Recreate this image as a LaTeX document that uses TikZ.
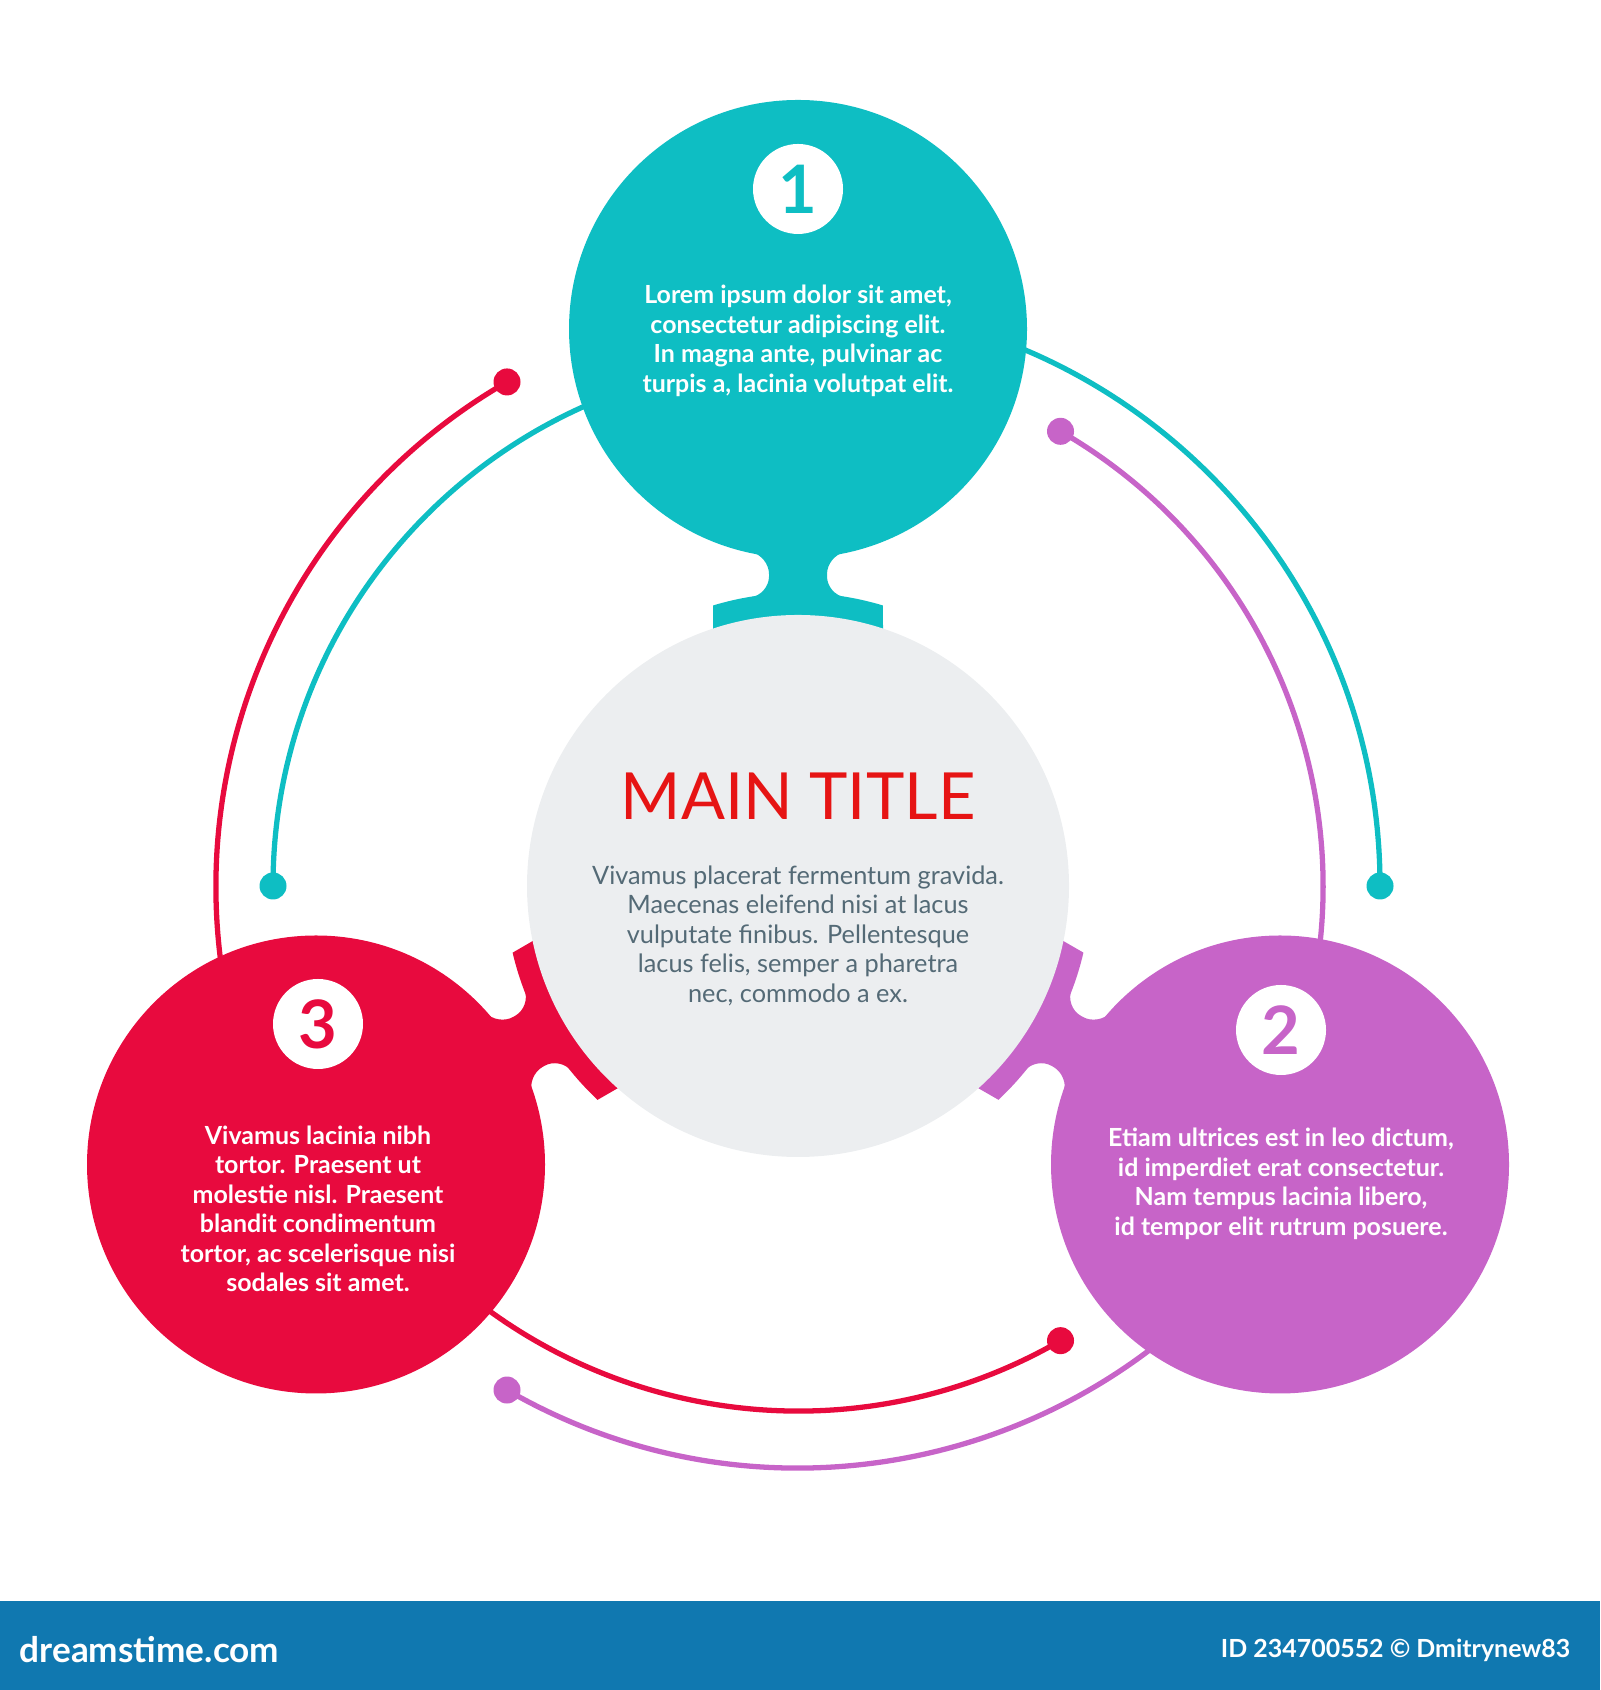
\documentclass[tikz,border=0pt]{standalone}
\usepackage{fontspec}
\setmainfont{Lato}
\usepackage{xcolor}
\usepackage{tikz}
\usetikzlibrary{positioning}
\definecolor{tealc}{RGB}{14,190,195}
\definecolor{redc}{RGB}{232,10,62}
\definecolor{purplec}{RGB}{199,100,200}
\definecolor{coregray}{RGB}{236,238,240}
\definecolor{titlered}{RGB}{230,20,20}
\definecolor{slate}{RGB}{84,106,118}
\definecolor{barblue}{RGB}{16,120,176}
\tikzstyle{item} = [circle, minimum size=4.58cm, inner sep=0pt]
\tikzstyle{core} = [circle, fill=coregray, minimum size=5.42cm, inner sep=0pt]
\tikzstyle{badge} = [circle, fill=white, minimum size=0.9cm, inner sep=0pt, font=\fontsize{19}{19}\selectfont\bfseries]
\tikzstyle{itemtext} = [align=center, text=white, font=\fontsize{7.1}{8.4}\selectfont\bfseries]
\tikzstyle{bodytext} = [align=center, text=slate, font=\fontsize{7.2}{8.4}\selectfont]
\tikzstyle{arcline} = [line width=1.5pt]
\tikzstyle{enddot} = [circle, inner sep=0pt, minimum size=0.27cm]
\newcommand{\neckpart}[2]{%
  \begin{scope}[shift={(7.98,8.04)}, rotate=#1]
    \fill[#2] (-0.85,2.5) -- (-0.85,2.805) arc[start angle=106.86, end angle=73.14, radius=2.93] -- (0.85,2.5) -- cycle;
    \fill[#2, rounded corners=0.18cm] (-0.6,2.6) -- (-0.6,2.867) -- (-0.29,2.915) -- (-0.29,3.30) -- (-0.7,3.39) -- (-0.7,4) -- (0.7,4) -- (0.7,3.39) -- (0.29,3.30) -- (0.29,2.915) -- (0.6,2.867) -- (0.6,2.6) -- cycle;
  \end{scope}}

\begin{document}
\begin{tikzpicture}
        \useasboundingbox (0,0) rectangle (16,16.9);
        \coordinate (mid) at (7.98,8.04);

        \draw[arcline, tealc] ([shift={(90:5.25)}]mid) arc[start angle=90, end angle=180, radius=5.25] node[enddot, fill=tealc] (dot1a) {};
        \draw[arcline, tealc] ([shift={(90:5.82)}]mid) arc[start angle=90, end angle=0, radius=5.82] node[enddot, fill=tealc] (dot1b) {};
        \draw[arcline, purplec] ([shift={(330:5.25)}]mid) arc[start angle=330, end angle=420, radius=5.25] node[enddot, fill=purplec] (dot2a) {};
        \draw[arcline, purplec] ([shift={(330:5.82)}]mid) arc[start angle=330, end angle=240, radius=5.82] node[enddot, fill=purplec] (dot2b) {};
        \draw[arcline, redc] ([shift={(210:5.25)}]mid) arc[start angle=210, end angle=300, radius=5.25] node[enddot, fill=redc] (dot3a) {};
        \draw[arcline, redc] ([shift={(210:5.82)}]mid) arc[start angle=210, end angle=120, radius=5.82] node[enddot, fill=redc] (dot3b) {};

        \neckpart{0}{tealc}
        \neckpart{240}{purplec}
        \neckpart{120}{redc}

        \node[item, fill=tealc] (one) at (7.98,13.61) {};
        \node[item, fill=purplec] (two) at (12.80,5.255) {};
        \node[item, fill=redc] (three) at (3.16,5.255) {};
        \node[core] (hub) at (mid) {};

        \node[badge, text=tealc] (num1) at (7.98,15.01) {1};
        \node[badge, text=purplec] (num2) at (12.81,6.60) {2};
        \node[badge, text=redc] (num3) at (3.18,6.66) {3};

        \node[itemtext] (txt1) at (7.98,13.49) {Lorem ipsum dolor sit amet,\\consectetur adipiscing elit.\\In magna ante, pulvinar ac\\turpis a, lacinia volutpat elit.};
        \node[itemtext] (txt2) at (12.81,5.06) {Etiam ultrices est in leo dictum,\\id imperdiet erat consectetur.\\Nam tempus lacinia libero,\\id tempor elit rutrum posuere.};
        \node[itemtext] (txt3) at (3.18,4.81) {Vivamus lacinia nibh\\tortor. Praesent ut\\molestie nisl. Praesent\\blandit condimentum\\tortor, ac scelerisque nisi\\sodales sit amet.};

        \node[text=titlered, font=\fontsize{18.5}{18.5}\selectfont] (title) at (7.98,8.94) {MAIN TITLE};
        \node[bodytext] (body) at (7.98,7.545) {Vivamus placerat fermentum gravida.\\Maecenas eleifend nisi at lacus\\vulputate finibus. Pellentesque\\lacus felis, semper a pharetra\\nec, commodo a ex.};

        \fill[barblue] (0,0) rectangle (16,0.89);
        \node[anchor=west, inner sep=0pt, text=white, font=\fontsize{10}{10}\selectfont\bfseries] (site) at (0.19,0.40) {dreamstime.com};
        \node[anchor=east, inner sep=0pt, text=white, font=\fontsize{7.1}{7.1}\selectfont\bfseries] (credit) at (15.71,0.40) {ID 234700552 © Dmitrynew83};
    \end{tikzpicture}
\end{document}
